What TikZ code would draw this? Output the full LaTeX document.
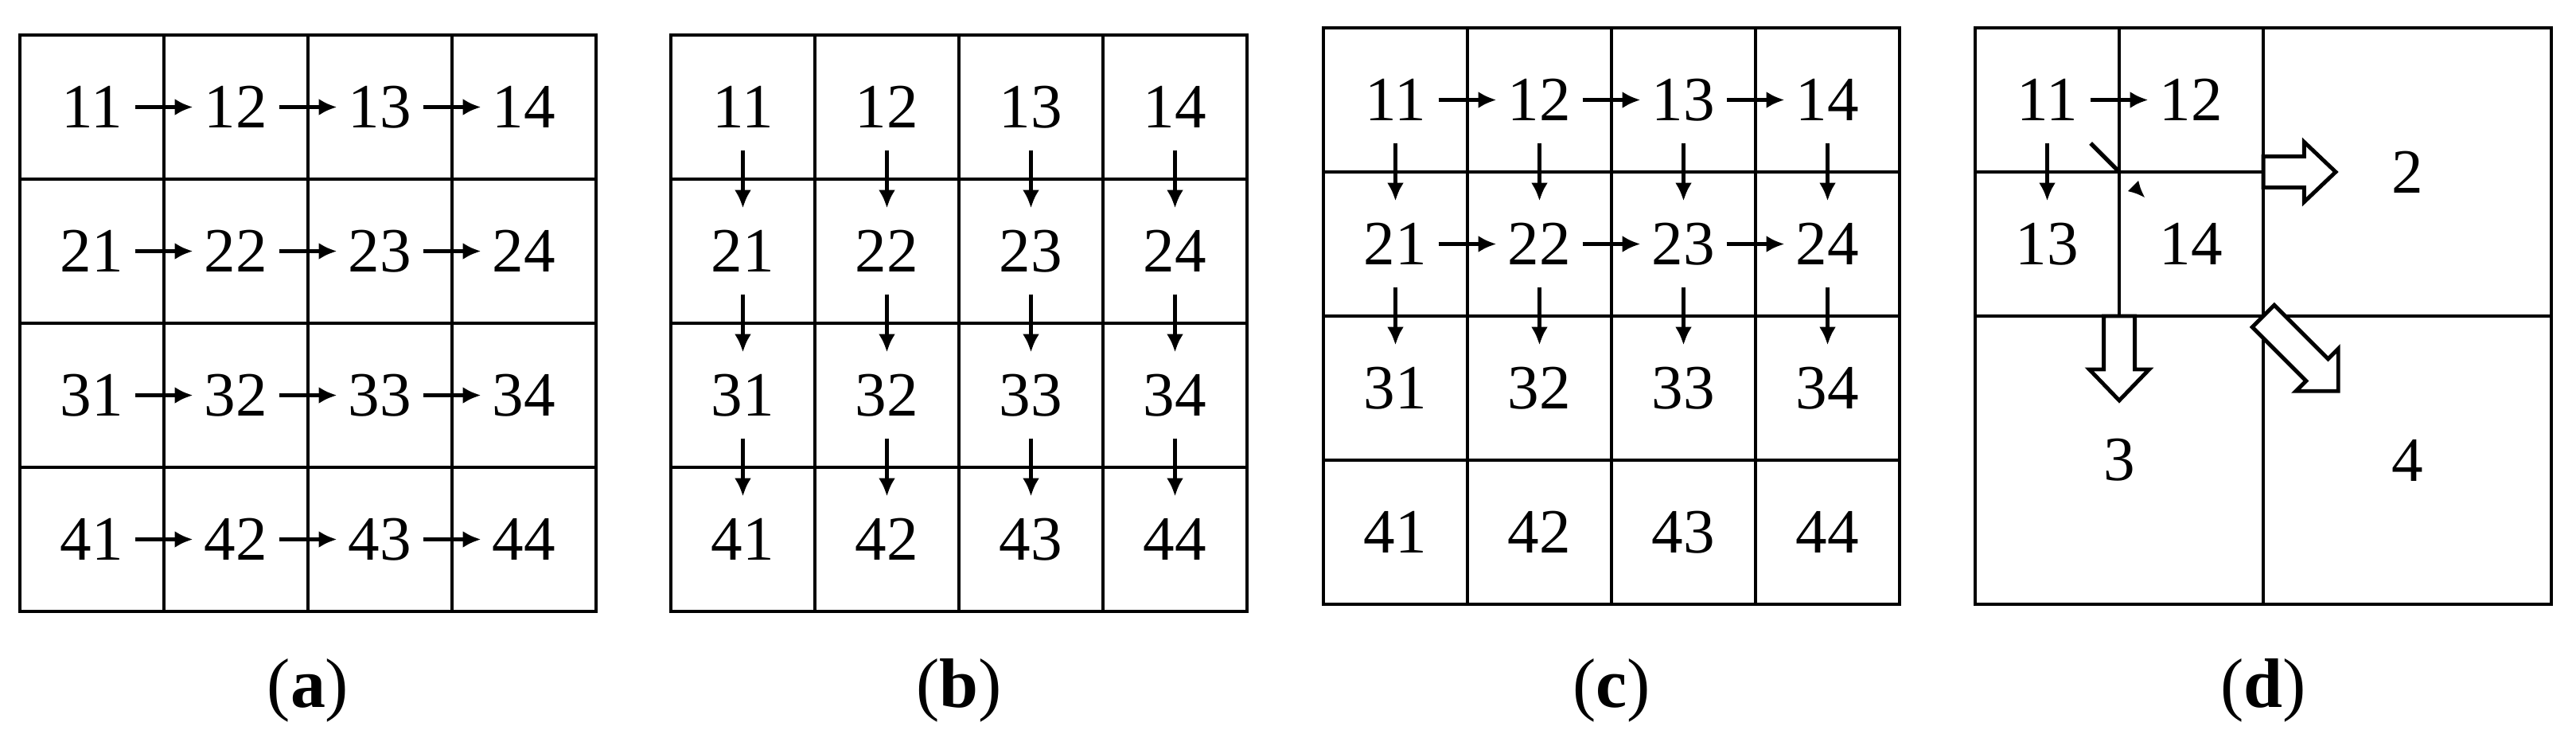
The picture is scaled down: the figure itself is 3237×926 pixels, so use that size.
\documentclass[tikz,border=0pt]{standalone}
\usepackage{fontspec}
\setmainfont{Liberation Serif}
\usetikzlibrary{arrows.meta,calc}
\begin{document}
\begin{tikzpicture}[x=0.01cm,y=-0.01cm,
  gridline/.style={line width=1.1pt, black},
  num/.style={font=\fontsize{22.5}{26}\selectfont, inner sep=0pt},
  lab/.style={font=\fontsize{25}{30}\selectfont, inner sep=0pt, anchor=base},
  arr/.style={line width=1.5pt, -{Latex[length=6.5pt,width=6pt]}, shorten <=0.54cm, shorten >=0.54cm},
  blockarrow/.style={line width=1.4pt, fill=white, line join=miter}]
\useasboundingbox (0,0) rectangle (3237,926);

% ---------- panel (a) ----------
\begin{scope}[shift={(25,44)}]
  \draw[gridline] (0,0) rectangle (724,724);
  \foreach \k in {181,362,543} {
    \draw[gridline] (\k,0) -- (\k,724);
    \draw[gridline] (0,\k) -- (724,\k);
  }
  \foreach \r in {1,...,4} \foreach \c in {1,...,4}
    \node[num] (a\r\c) at ({(\c-0.5)*181},{(\r-0.5)*181}) {\r\c};
\end{scope}
\foreach \r in {1,...,4} \foreach \c/\n in {1/2,2/3,3/4}
  \draw[arr] (a\r\c.center) -- (a\r\n.center);

% ---------- panel (b) ----------
\begin{scope}[shift={(843,44)}]
  \draw[gridline] (0,0) rectangle (724,724);
  \foreach \k in {181,362,543} {
    \draw[gridline] (\k,0) -- (\k,724);
    \draw[gridline] (0,\k) -- (724,\k);
  }
  \foreach \r in {1,...,4} \foreach \c in {1,...,4}
    \node[num] (b\r\c) at ({(\c-0.5)*181},{(\r-0.5)*181}) {\r\c};
\end{scope}
\foreach \c in {1,...,4} \foreach \r/\n in {1/2,2/3,3/4}
  \draw[arr] (b\r\c.center) -- (b\n\c.center);

% ---------- panel (c) ----------
\begin{scope}[shift={(1663,35)}]
  \draw[gridline] (0,0) rectangle (724,724);
  \foreach \k in {181,362,543} {
    \draw[gridline] (\k,0) -- (\k,724);
    \draw[gridline] (0,\k) -- (724,\k);
  }
  \foreach \r in {1,...,4} \foreach \c in {1,...,4}
    \node[num] (c\r\c) at ({(\c-0.5)*181},{(\r-0.5)*181}) {\r\c};
\end{scope}
\foreach \r in {1,2} \foreach \c/\n in {1/2,2/3,3/4}
  \draw[arr] (c\r\c.center) -- (c\r\n.center);
\foreach \c in {1,...,4} \foreach \r/\n in {1/2,2/3}
  \draw[arr] (c\r\c.center) -- (c\n\c.center);

% ---------- panel (d) ----------
\begin{scope}[shift={(2482,35)}]
  \draw[gridline] (0,0) rectangle (724,724);
  \draw[gridline] (362,0) -- (362,724);
  \draw[gridline] (0,362) -- (724,362);
  \draw[gridline] (181,0) -- (181,362);
  \draw[gridline] (0,181) -- (362,181);
  \node[num] (d11) at (90.5,90.5) {11};
  \node[num] (d12) at (271.5,90.5) {12};
  \node[num] (d13) at (90.5,271.5) {13};
  \node[num] (d14) at (271.5,271.5) {14};
  \node[num] (d2) at (543,181) {2};
  \node[num] (d3) at (181,543) {3};
  \node[num] (d4) at (543,543) {4};
  \coordinate (dx) at (181,181);
  % down block arrow
  \draw[blockarrow] (161.5,362) -- (161.5,429) -- (143.4,429) -- (181,468)
    -- (218.6,429) -- (200.5,429) -- (200.5,362) -- cycle;
  % right block arrow
  \draw[blockarrow] (362,161.5) -- (413.4,161.5) -- (413.4,143.4) -- (453,181)
    -- (413.4,218.6) -- (413.4,200.5) -- (362,200.5) -- cycle;
  % diagonal block arrow
  \begin{scope}[shift={(362,362)}]
    \draw[blockarrow] (13.8,-13.8) -- (81.4,53.8) -- (94.2,41.0) -- (94.2,94.2)
      -- (41.0,94.2) -- (53.8,81.4) -- (-13.8,13.8) -- cycle;
  \end{scope}
\end{scope}
\draw[arr] (d11.center) -- (d12.center);
\draw[arr] (d11.center) -- (d13.center);
\draw[line width=1.5pt, shorten <=0.77cm] (d11.center) -- (dx);
\draw[line width=1.5pt, -{Latex[length=6pt,width=5.5pt]}, shorten <=0.3cm, shorten >=0.82cm] (dx) -- (d14.center);

% ---------- labels ----------
\node[lab] (la) at (387,888) {(\textbf{a})};
\node[lab] (lb) at (1205,888) {(\textbf{b})};
\node[lab] (lc) at (2025,888) {(\textbf{c})};
\node[lab] (ld) at (2844,888) {(\textbf{d})};
\end{tikzpicture}
\end{document}
